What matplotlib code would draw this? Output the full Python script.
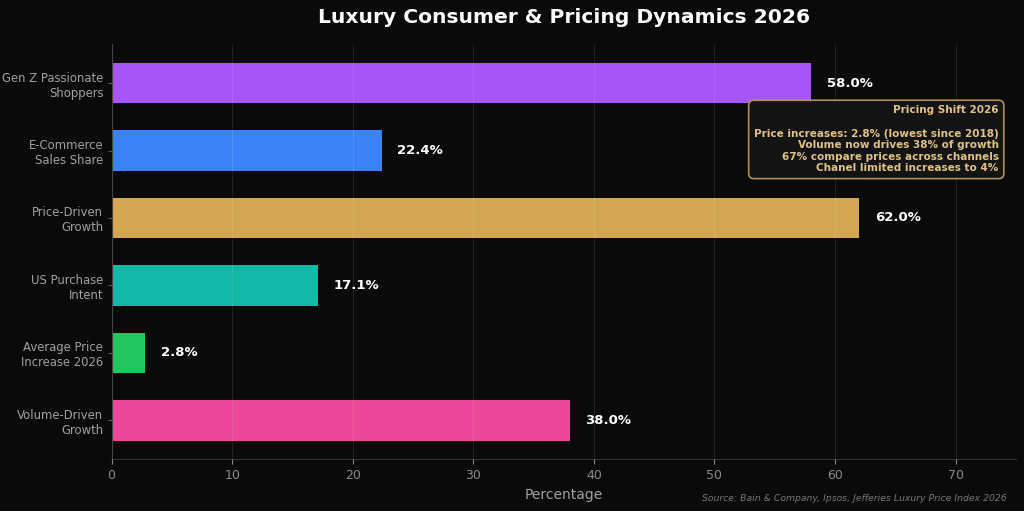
import numpy as np
import matplotlib.pyplot as plt

# data
categories = ["Gen Z Passionate\nShoppers", "E-Commerce\nSales Share", "Price-Driven\nGrowth",
              "US Purchase\nIntent", "Average Price\nIncrease 2026", "Volume-Driven\nGrowth"]
values = [58.0, 22.4, 62.0, 17.1, 2.8, 38.0]
colors = ["#a855f7", "#3b82f6", "#d4a853", "#14b8a6", "#22c55e", "#ec4899"]

note_lines = ["Pricing Shift 2026", "",
              "Price increases: 2.8% (lowest since 2018)",
              "Volume now drives 38% of growth",
              "67% compare prices across channels",
              "Chanel limited increases to 4%"]

bg = "#0a0a0a"
plt.rcParams["font.family"] = "DejaVu Sans"

fig, ax = plt.subplots(figsize=(10.24, 5.11), dpi=100)
fig.patch.set_facecolor(bg)
ax.set_facecolor(bg)
fig.subplots_adjust(left=0.109, right=0.992, top=0.914, bottom=0.101)

y = np.arange(len(categories))
ax.barh(y, values, height=0.6, color=colors, zorder=2)
ax.invert_yaxis()

for yi, v in zip(y, values):
    ax.text(v + 1.3, yi, f"{v:.1f}%", va="center", ha="left",
            color="white", fontsize=9.5, fontweight="bold", zorder=4)

ax.set_yticks(y)
ax.set_yticklabels(categories, color="#a0a0a0", fontsize=8.4)
ax.set_xlim(0, 75)
ax.set_xticks(np.arange(0, 80, 10))
ax.tick_params(axis="x", colors="#8a8a8a", labelsize=9)
ax.tick_params(axis="y", colors="#555555", labelcolor="#a0a0a0", length=3, pad=3)
ax.grid(axis="x", color="#ffffff", alpha=0.09, linewidth=0.8, zorder=3)
ax.set_axisbelow(False)

for side in ["top", "right"]:
    ax.spines[side].set_visible(False)
for side in ["left", "bottom"]:
    ax.spines[side].set_color("#333333")

ax.set_xlabel("Percentage", color="#a0a0a0", fontsize=10, labelpad=4)
ax.set_title("Luxury Consumer & Pricing Dynamics 2026", color="white",
             fontsize=14.6, fontweight="bold", pad=15)

ax.text(0.981, 0.852, "\n".join(note_lines), transform=ax.transAxes,
        ha="right", va="top", fontsize=7.5, fontweight="bold", color="#e0c285",
        linespacing=1.2, zorder=5,
        bbox=dict(boxstyle="round,pad=0.5", facecolor="#151515",
                  edgecolor="#b8975a", linewidth=1.2, alpha=0.95))

fig.text(0.983, 0.016, "Source: Bain & Company, Ipsos, Jefferies Luxury Price Index 2026",
         ha="right", va="bottom", fontsize=6.7, style="italic", color="#777777")

fig.savefig("out.png", facecolor=bg)
